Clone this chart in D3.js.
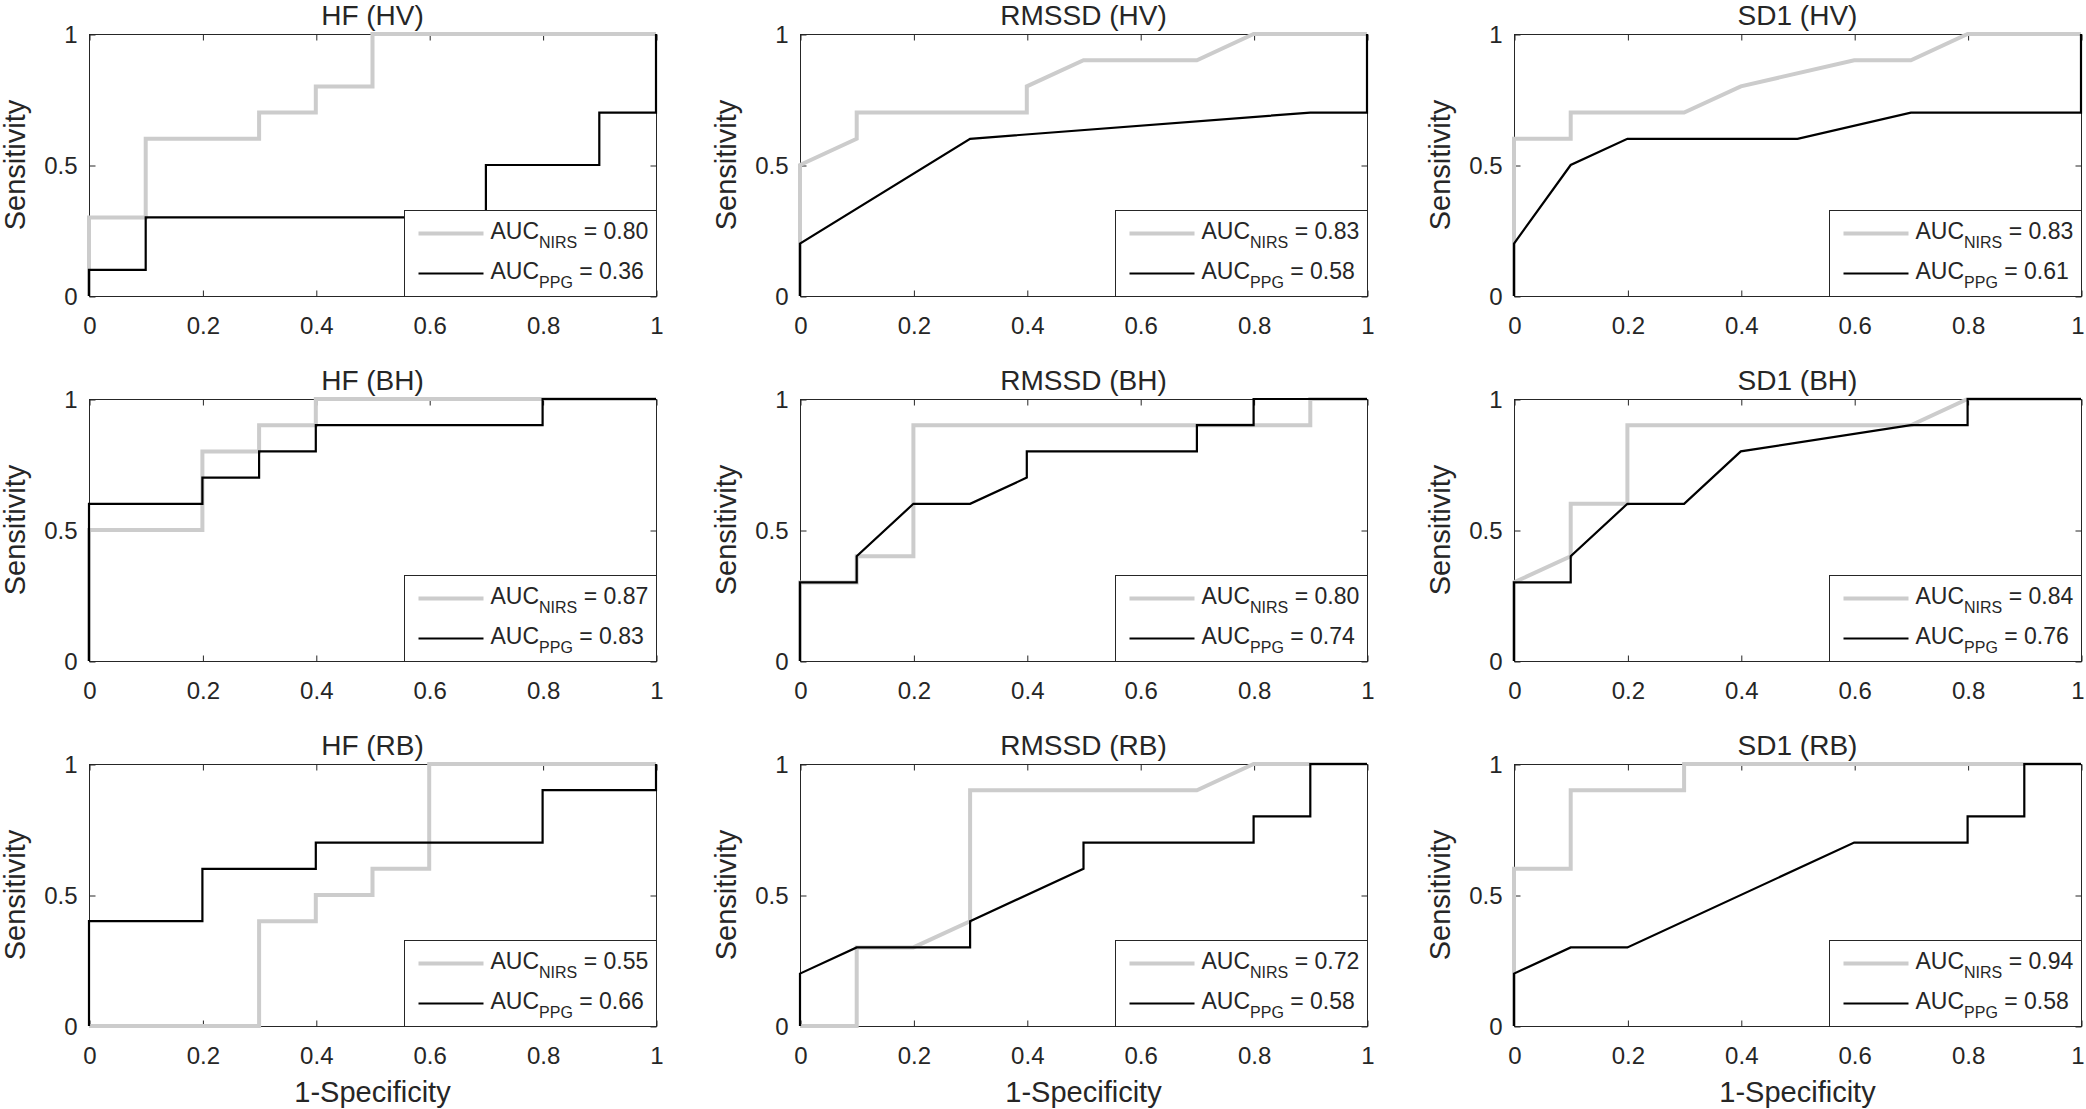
<!DOCTYPE html>
<html><head><meta charset="utf-8">
<script src="https://cdn.jsdelivr.net/npm/d3@7"></script>
<style>
body{margin:0;background:#fff}
svg{display:block}
text{font-family:"Liberation Sans",Arial,Helvetica,sans-serif;fill:#262626}
</style>
</head><body>
<svg id="chart" width="2086" height="1109"></svg>
<script>
// ---------- data ----------
const panelTitles = ["HF (HV)", "RMSSD (HV)", "SD1 (HV)",
                     "HF (BH)", "RMSSD (BH)", "SD1 (BH)",
                     "HF (RB)", "RMSSD (RB)", "SD1 (RB)"];
const aucNIRS = ["0.80", "0.83", "0.83", "0.87", "0.80", "0.84", "0.55", "0.72", "0.94"];
const aucPPG  = ["0.36", "0.58", "0.61", "0.83", "0.74", "0.76", "0.66", "0.58", "0.58"];
const xTicks = [0, 0.2, 0.4, 0.6, 0.8, 1];
const yTicks = [0, 0.5, 1];
const xLabel = "1-Specificity";
const yLabel = "Sensitivity";

// ROC points [1-Specificity, Sensitivity]
const HF_HV_NIRS    = [[0,0],[0,0.3],[0.1,0.3],[0.1,0.6],[0.3,0.6],[0.3,0.7],[0.4,0.7],[0.4,0.8],[0.5,0.8],[0.5,1],[1,1]];
const HF_HV_PPG     = [[0,0],[0,0.1],[0.1,0.1],[0.1,0.3],[0.7,0.3],[0.7,0.5],[0.9,0.5],[0.9,0.7],[1,0.7],[1,1]];
const RMSSD_HV_NIRS = [[0,0],[0,0.5],[0.1,0.6],[0.1,0.7],[0.4,0.7],[0.4,0.8],[0.5,0.9],[0.7,0.9],[0.8,1],[1,1]];
const RMSSD_HV_PPG  = [[0,0],[0,0.2],[0.3,0.6],[0.9,0.7],[1,0.7],[1,1]];
const SD1_HV_NIRS   = [[0,0],[0,0.6],[0.1,0.6],[0.1,0.7],[0.3,0.7],[0.4,0.8],[0.6,0.9],[0.7,0.9],[0.8,1],[1,1]];
const SD1_HV_PPG    = [[0,0],[0,0.2],[0.1,0.5],[0.2,0.6],[0.5,0.6],[0.7,0.7],[1,0.7],[1,1]];
const HF_BH_NIRS    = [[0,0],[0,0.5],[0.2,0.5],[0.2,0.8],[0.3,0.8],[0.3,0.9],[0.4,0.9],[0.4,1],[1,1]];
const HF_BH_PPG     = [[0,0],[0,0.6],[0.2,0.6],[0.2,0.7],[0.3,0.7],[0.3,0.8],[0.4,0.8],[0.4,0.9],[0.8,0.9],[0.8,1],[1,1]];
const RMSSD_BH_NIRS = [[0,0],[0,0.3],[0.1,0.3],[0.1,0.4],[0.2,0.4],[0.2,0.9],[0.9,0.9],[0.9,1],[1,1]];
const RMSSD_BH_PPG  = [[0,0],[0,0.3],[0.1,0.3],[0.1,0.4],[0.2,0.6],[0.3,0.6],[0.4,0.7],[0.4,0.8],[0.7,0.8],[0.7,0.9],[0.8,0.9],[0.8,1],[1,1]];
const SD1_BH_NIRS   = [[0,0],[0,0.3],[0.1,0.4],[0.1,0.6],[0.2,0.6],[0.2,0.9],[0.7,0.9],[0.8,1],[1,1]];
const SD1_BH_PPG    = [[0,0],[0,0.3],[0.1,0.3],[0.1,0.4],[0.2,0.6],[0.3,0.6],[0.4,0.8],[0.7,0.9],[0.8,0.9],[0.8,1],[1,1]];
const HF_RB_NIRS    = [[0,0],[0.3,0],[0.3,0.4],[0.4,0.4],[0.4,0.5],[0.5,0.5],[0.5,0.6],[0.6,0.6],[0.6,1],[1,1]];
const HF_RB_PPG     = [[0,0],[0,0.4],[0.2,0.4],[0.2,0.6],[0.4,0.6],[0.4,0.7],[0.8,0.7],[0.8,0.9],[1,0.9],[1,1]];
const RMSSD_RB_NIRS = [[0,0],[0.1,0],[0.1,0.3],[0.2,0.3],[0.3,0.4],[0.3,0.9],[0.7,0.9],[0.8,1],[1,1]];
const RMSSD_RB_PPG  = [[0,0],[0,0.2],[0.1,0.3],[0.3,0.3],[0.3,0.4],[0.5,0.6],[0.5,0.7],[0.8,0.7],[0.8,0.8],[0.9,0.8],[0.9,1],[1,1]];
const SD1_RB_NIRS   = [[0,0],[0,0.6],[0.1,0.6],[0.1,0.9],[0.3,0.9],[0.3,1],[1,1]];
const SD1_RB_PPG    = [[0,0],[0,0.2],[0.1,0.3],[0.2,0.3],[0.6,0.7],[0.8,0.7],[0.8,0.8],[0.9,0.8],[0.9,1],[1,1]];

const nirsCurves = [HF_HV_NIRS, RMSSD_HV_NIRS, SD1_HV_NIRS, HF_BH_NIRS, RMSSD_BH_NIRS, SD1_BH_NIRS, HF_RB_NIRS, RMSSD_RB_NIRS, SD1_RB_NIRS];
const ppgCurves  = [HF_HV_PPG, RMSSD_HV_PPG, SD1_HV_PPG, HF_BH_PPG, RMSSD_BH_PPG, SD1_BH_PPG, HF_RB_PPG, RMSSD_RB_PPG, SD1_RB_PPG];

// ---------- layout ----------
const colLeft = [89, 800, 1514];
const rowTop = [34, 399, 764];
const W = 567, H = 262;
const axisColor = "#262626";
const nirsColor = "#cccccc";
const ppgColor = "#000000";
const tickFont = 24, labelFont = 29, titleFont = 28, legendFont = 23, subFont = 16;

const svg = d3.select("#chart");

panelTitles.forEach((title, i) => {
  const r = Math.floor(i / 3), c = i % 3;
  const g = svg.append("g").attr("transform", `translate(${colLeft[c]},${rowTop[r]})`);
  const x = d3.scaleLinear().domain([0, 1]).range([0, W]);
  const y = d3.scaleLinear().domain([0, 1]).range([H, 0]);

  // box
  g.append("rect").attr("x", 0.5).attr("y", 0.5).attr("width", W).attr("height", H)
    .attr("fill", "#fff").attr("stroke", axisColor).attr("stroke-width", 1);

  // axes (inward ticks)
  const fmt = d3.format("");
  const xa = g.append("g").attr("transform", `translate(0.5,${H + 0.5})`)
    .call(d3.axisBottom(x).tickValues(xTicks).tickFormat(fmt).tickSize(-6).tickPadding(20));
  const xt = g.append("g").attr("transform", `translate(0.5,0.5)`)
    .call(d3.axisTop(x).tickValues(xTicks).tickFormat("").tickSize(-6));
  const ya = g.append("g").attr("transform", `translate(0.5,0.5)`)
    .call(d3.axisLeft(y).tickValues(yTicks).tickFormat(fmt).tickSize(-6).tickPadding(12));
  const yr = g.append("g").attr("transform", `translate(${W + 0.5},0.5)`)
    .call(d3.axisRight(y).tickValues(yTicks).tickFormat("").tickSize(-6));
  [xa, xt, ya, yr].forEach(a => {
    a.select(".domain").remove();
    a.selectAll(".tick line").attr("stroke", axisColor);
    a.selectAll("text").attr("font-size", tickFont).attr("fill", axisColor)
      .style("font-family", '"Liberation Sans",Arial,sans-serif');
  });
  // keep the last tick label of the right-most column inside the page
  if (c === 2) {
    xa.selectAll(".tick").filter(d => d === 1).select("text").attr("x", -4);
  }

  // curves
  const line = d3.line().x(d => x(d[0])).y(d => y(d[1]));
  g.append("path").datum(nirsCurves[i]).attr("d", line)
    .attr("fill", "none").attr("stroke", nirsColor).attr("stroke-width", 4)
    .attr("stroke-linejoin", "miter");
  g.append("path").datum(ppgCurves[i]).attr("d", line)
    .attr("fill", "none").attr("stroke", ppgColor).attr("stroke-width", 2.2)
    .attr("stroke-linejoin", "miter");

  // title
  g.append("text").attr("x", W / 2).attr("y", -9).attr("text-anchor", "middle")
    .attr("font-size", titleFont).attr("fill", "#000").text(title);

  // y label
  g.append("text").attr("transform", `translate(-64,${H / 2}) rotate(-90)`)
    .attr("text-anchor", "middle").attr("font-size", labelFont).attr("fill", axisColor).text(yLabel);

  // x label (bottom row only)
  if (r === 2) {
    g.append("text").attr("x", W / 2).attr("y", H + 76).attr("text-anchor", "middle")
      .attr("font-size", labelFont).attr("fill", axisColor).text(xLabel);
  }

  // legend
  const LW = 252, LH = 86;
  const lg = g.append("g").attr("transform", `translate(${W - LW + 0.5},${H - LH + 0.5})`);
  lg.append("rect").attr("width", LW).attr("height", LH).attr("fill", "#fff")
    .attr("stroke", axisColor).attr("stroke-width", 1);
  const entries = [
    {color: nirsColor, w: 4, sub: "NIRS", val: aucNIRS[i], cy: 23},
    {color: ppgColor, w: 2.2, sub: "PPG", val: aucPPG[i], cy: 63}
  ];
  entries.forEach(e => {
    lg.append("line").attr("x1", 14).attr("x2", 79).attr("y1", e.cy).attr("y2", e.cy)
      .attr("stroke", e.color).attr("stroke-width", e.w);
    const t = lg.append("text").attr("x", 86).attr("y", e.cy + 5.5)
      .attr("font-size", legendFont).attr("fill", "#000");
    t.append("tspan").text("AUC");
    t.append("tspan").attr("font-size", subFont).attr("dy", 9).text(e.sub);
    t.append("tspan").attr("dy", -9).text(" = " + e.val);
  });
});
</script>
</body></html>
